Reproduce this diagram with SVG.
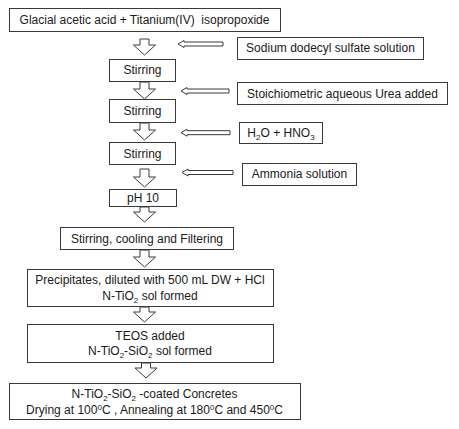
<svg xmlns="http://www.w3.org/2000/svg" width="459" height="429" viewBox="0 0 459 429">
<style>
.box{fill:#fff;stroke:#3a3a3a;stroke-width:1}
.arr{fill:#fff;stroke:#3a3a3a;stroke-width:1;stroke-linejoin:miter}
text{font-family:"Liberation Sans",Arial,sans-serif;font-size:12px;fill:#1a1a1a;text-anchor:middle}
.sub{font-size:8px}
</style>
<rect width="459" height="429" fill="#fff"/>
<g id="connectors">
<path class="arr" d="M140,39 h9 v6 h6.5 L144.5,55 L133.5,45 h6.5 z"/>
<path class="arr" d="M140,82 h9 v7 h6.5 L144.5,99 L133.5,89 h6.5 z"/>
<path class="arr" d="M140,123 h9 v7 h6.5 L144.5,140 L133.5,130 h6.5 z"/>
<path class="arr" d="M140,169 h9 v8 h6.5 L144.5,187 L133.5,177 h6.5 z"/>
<path class="arr" d="M140,207 h9 v5 h6.5 L144.5,222 L133.5,212 h6.5 z"/>
<path class="arr" d="M140,250 h9 v7 h6.5 L144.5,267 L133.5,257 h6.5 z"/>
<path class="arr" d="M140,307 h9 v5 h6.5 L144.5,322 L133.5,312 h6.5 z"/>
<path class="arr" d="M141.5,363 h9 v5 h6.5 L146,378 L135,368 h6.5 z"/>
<path class="arr" d="M178,44 L184,40.5 V42 H223 V46 H184 V47.5 z"/>
<path class="arr" d="M181,91 L187,87.5 V89 H229 V93 H187 V94.5 z"/>
<path class="arr" d="M181,132.7 L187,129.2 V130.7 H230 V134.7 H187 V136.2 z"/>
<path class="arr" d="M182,172.5 L188,169 V170.5 H233 V174.5 H188 V176 z"/>
</g>
<g id="n1"><rect class="box" x="9.5" y="8.5" width="271" height="23"/><text x="144.5" y="24" xml:space="preserve">Glacial acetic acid + Titanium(IV)  isopropoxide</text></g>
<g id="n2"><rect class="box" x="109.5" y="59.5" width="66" height="22"/><text x="142.5" y="74.3">Stirring</text></g>
<g id="n3"><rect class="box" x="109.5" y="99.5" width="66" height="23"/><text x="142.5" y="115">Stirring</text></g>
<g id="n4"><rect class="box" x="109.5" y="142.5" width="66" height="22"/><text x="142.5" y="157.5">Stirring</text></g>
<g id="n5"><rect class="box" x="109.5" y="189.5" width="67" height="17"/><text x="143" y="202">pH 10</text></g>
<g id="n6"><rect class="box" x="60.5" y="227.5" width="173" height="22"/><text x="147" y="242.5">Stirring, cooling and Filtering</text></g>
<g id="n7"><rect class="box" x="27.5" y="269.5" width="246" height="37"/><text x="150" y="283.5">Precipitates, diluted with 500 mL DW + HCl</text><text x="150" y="299.5">N-TiO<tspan class="sub" dy="3">2</tspan><tspan dy="-3"> sol formed</tspan></text></g>
<g id="n8"><rect class="box" x="27.5" y="324.5" width="246" height="38"/><text x="150" y="339.5">TEOS added</text><text x="150" y="354.5">N-TiO<tspan class="sub" dy="3">2</tspan><tspan dy="-3">-SiO</tspan><tspan class="sub" dy="3">2</tspan><tspan dy="-3"> sol formed</tspan></text></g>
<g id="n9"><rect class="box" x="9.5" y="383.5" width="291" height="36"/><text x="154.5" y="397.5">N-TiO<tspan class="sub" dy="3">2</tspan><tspan dy="-3">-SiO</tspan><tspan class="sub" dy="3">2</tspan><tspan dy="-3"> -coated Concretes</tspan></text><text x="154.5" y="413.5">Drying at 100<tspan class="sub" dy="-4">0</tspan><tspan dy="4">C , Annealing at 180</tspan><tspan class="sub" dy="-4">0</tspan><tspan dy="4">C and 450</tspan><tspan class="sub" dy="-4">0</tspan><tspan dy="4">C</tspan></text></g>
<g id="r1"><rect class="box" x="237.5" y="37.5" width="186" height="22"/><text x="330.5" y="52.3">Sodium dodecyl sulfate solution</text></g>
<g id="r2"><rect class="box" x="237.5" y="82.5" width="210" height="22"/><text x="342.5" y="97.5">Stoichiometric aqueous Urea added</text></g>
<g id="r3"><rect class="box" x="239.5" y="122.5" width="83" height="21"/><text x="281" y="137">H<tspan class="sub" dy="3">2</tspan><tspan dy="-3">O + HNO</tspan><tspan class="sub" dy="3">3</tspan></text></g>
<g id="r4"><rect class="box" x="242.5" y="163.5" width="114" height="22"/><text x="299.5" y="178.3">Ammonia solution</text></g>
</svg>
